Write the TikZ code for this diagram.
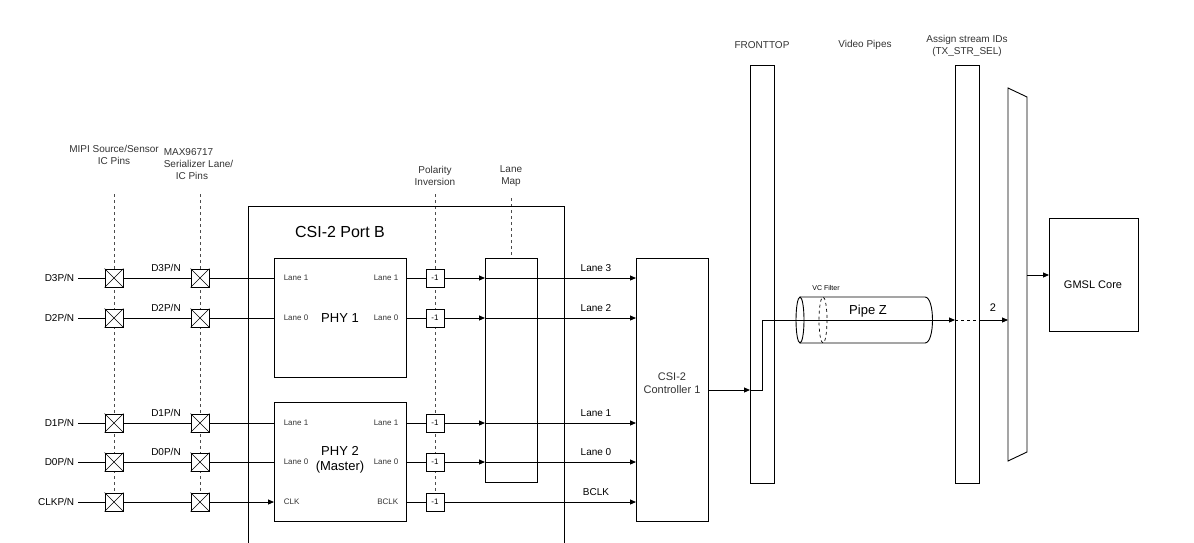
\documentclass[tikz,border=0pt]{standalone}
\usepackage{fontspec}
\setmainfont{Liberation Sans}
\usetikzlibrary{arrows.meta}
\begin{document}
\begin{tikzpicture}[x=1pt,y=-1pt,line width=0.9pt,
  lbl/.style={font=\fontsize{10}{12}\selectfont,text=black!80,align=center},
  sml/.style={font=\fontsize{8}{9}\selectfont,text=black!80},
  xbox/.style={draw,fill=white,minimum size=18pt,inner sep=0pt},
  pbox/.style={draw,fill=white,minimum size=18pt,inner sep=0pt,font=\fontsize{8}{9}\selectfont},
  dsh/.style={dashed,line width=0.6pt,black!70},
  arr/.style={-{Triangle[length=6pt,width=5pt]}}]
\useasboundingbox (0,0) rectangle (1194,543);
% top labels
\node[lbl] (l1) at (114,155) {MIPI Source/Sensor\\IC Pins};
\node[lbl,align=left,anchor=west] (l2) at (160,164) {MAX96717\\Serializer Lane/\\\hspace*{12pt}IC Pins};
\node[lbl] (l3) at (435,176) {Polarity\\Inversion};
\node[lbl] (l4) at (511,176) {Lane\\Map};
\node[lbl] (l5) at (762,45) {FRONTTOP};
\node[lbl] (l6) at (865,45) {Video Pipes};
\node[lbl] (l7) at (967,46) {Assign stream IDs\\(TX\_STR\_SEL)};
% dashed verticals
\coordinate (v1t) at (114,194); \coordinate (v1b) at (114,502);
\coordinate (v2t) at (200,194); \coordinate (v2b) at (200,502);
\coordinate (v3t) at (435,194); \coordinate (v3b) at (435,502);
\coordinate (v4t) at (511,198); \coordinate (v4b) at (511,258);
\draw[dsh] (v1t)--(v1b); \draw[dsh] (v2t)--(v2b); \draw[dsh] (v3t)--(v3b); \draw[dsh] (v4t)--(v4b);
% Port B
\draw (248,543) -- (248,206) -- (564,206) -- (564,543);
\node[font=\fontsize{16}{18}\selectfont] (pb) at (340,232) {CSI-2 Port B};
\node[draw,minimum width=132pt,minimum height=119pt,anchor=north west] (phy1) at (274,258) {};
\node[draw,minimum width=132pt,minimum height=119pt,anchor=north west] (phy2) at (274,402) {};
\node[font=\fontsize{13}{15}\selectfont] at (340,318) {PHY 1};
\node[font=\fontsize{13}{15}\selectfont,align=center] at (340,460) {PHY 2\\(Master)};
\node[draw,minimum width=52pt,minimum height=224pt,anchor=north west] (lmap) at (485,258) {};
\node[draw,minimum width=72pt,minimum height=263pt,anchor=north west] (ctrl) at (636,258) {};
\node[lbl,font=\fontsize{11}{13}\selectfont] at (672,383) {CSI-2\\Controller 1};
\node[draw,minimum width=24pt,minimum height=418pt,anchor=north west] (ft) at (750,65) {};
\node[draw,minimum width=24pt,minimum height=418pt,anchor=north west] (as) at (955,65) {};
\node[draw,minimum width=89pt,minimum height=113pt,anchor=north west] (gmsl) at (1049,218) {};
\node[font=\fontsize{11}{13}\selectfont] at (1093,285) {GMSL Core};
\draw (1008,88) -- (1027,97) -- (1027,452) -- (1008,461) -- cycle;
\coordinate (muxo) at (1027,275);
\draw[arr] (muxo) -- (gmsl.west |- muxo);
% rows
\foreach \y/\a/\i in {278/{D3P/N}/1,318/{D2P/N}/2,423/{D1P/N}/3,462/{D0P/N}/4,502/{CLKP/N}/5}{
  \node[font=\fontsize{10}{12}\selectfont,anchor=east] (s\i) at (78,\y) {\a};
  \node[xbox] (xa\i) at (114,\y) {};
  \node[xbox] (xb\i) at (200,\y) {};
  \draw[line width=0.6pt] (xa\i.north west)--(xa\i.south east) (xa\i.south west)--(xa\i.north east);
  \draw[line width=0.6pt] (xb\i.north west)--(xb\i.south east) (xb\i.south west)--(xb\i.north east);
  \draw (s\i.east)--(xa\i.west) (xa\i.east)--(xb\i.west);
  \node[pbox] (p\i) at (435,\y) {-1};
  \draw (p\i.west) -- (406,\y);
}
\foreach \i/\y in {1/278,2/318,3/423,4/462}{
  \draw (xb\i.east) -- (274,\y);
  \draw[arr] (p\i.east) -- (485,\y);
  \draw[arr] (485,\y) -- (636,\y);
}
\draw[arr] (xb5.east) -- (274,502);
\draw[arr] (p5.east) -- (636,502);
\foreach \y/\t in {268/{D3P/N},308/{D2P/N},413/{D1P/N},452/{D0P/N}}{\node[font=\fontsize{10}{12}\selectfont] at (166,\y) {\t};}
\foreach \y/\t in {268/Lane 3,308/Lane 2,413/Lane 1,452/Lane 0,492/BCLK}{\node[font=\fontsize{10}{12}\selectfont] at (596,\y) {\t};}
\foreach \y/\l/\r in {278/Lane 1/Lane 1,318/Lane 0/Lane 0,423/Lane 1/Lane 1,462/Lane 0/Lane 0,502/CLK/BCLK}{
  \node[sml,anchor=west] at (280,\y) {\l};
  \node[sml,anchor=east] at (402,\y) {\r};}
% controller to fronttop
\coordinate (c1) at (708,390);
\draw[arr] (c1) -- (750,390);
\draw (750,390) -- (762,390) -- (762,320) -- (797,320);
% pipe
\draw (800,297) -- (925,297) .. controls (935,297) and (935,343) .. (925,343) -- (800,343);
\draw (800,320) ellipse[x radius=4,y radius=23];
\draw[dashed,line width=0.7pt] (823,320) ellipse[x radius=4,y radius=23];
\node[font=\fontsize{7}{8}\selectfont] at (826,288) {VC Filter};
\node[font=\fontsize{13}{15}\selectfont] at (868,311) {Pipe Z};
\draw[arr] (797,320) -- (955,320);
\draw[dashed] (955,320) -- (979,320);
\draw[arr] (979,320) -- (1008,320);
\node[font=\fontsize{11}{13}\selectfont] at (993,308) {2};
\end{tikzpicture}
\end{document}
